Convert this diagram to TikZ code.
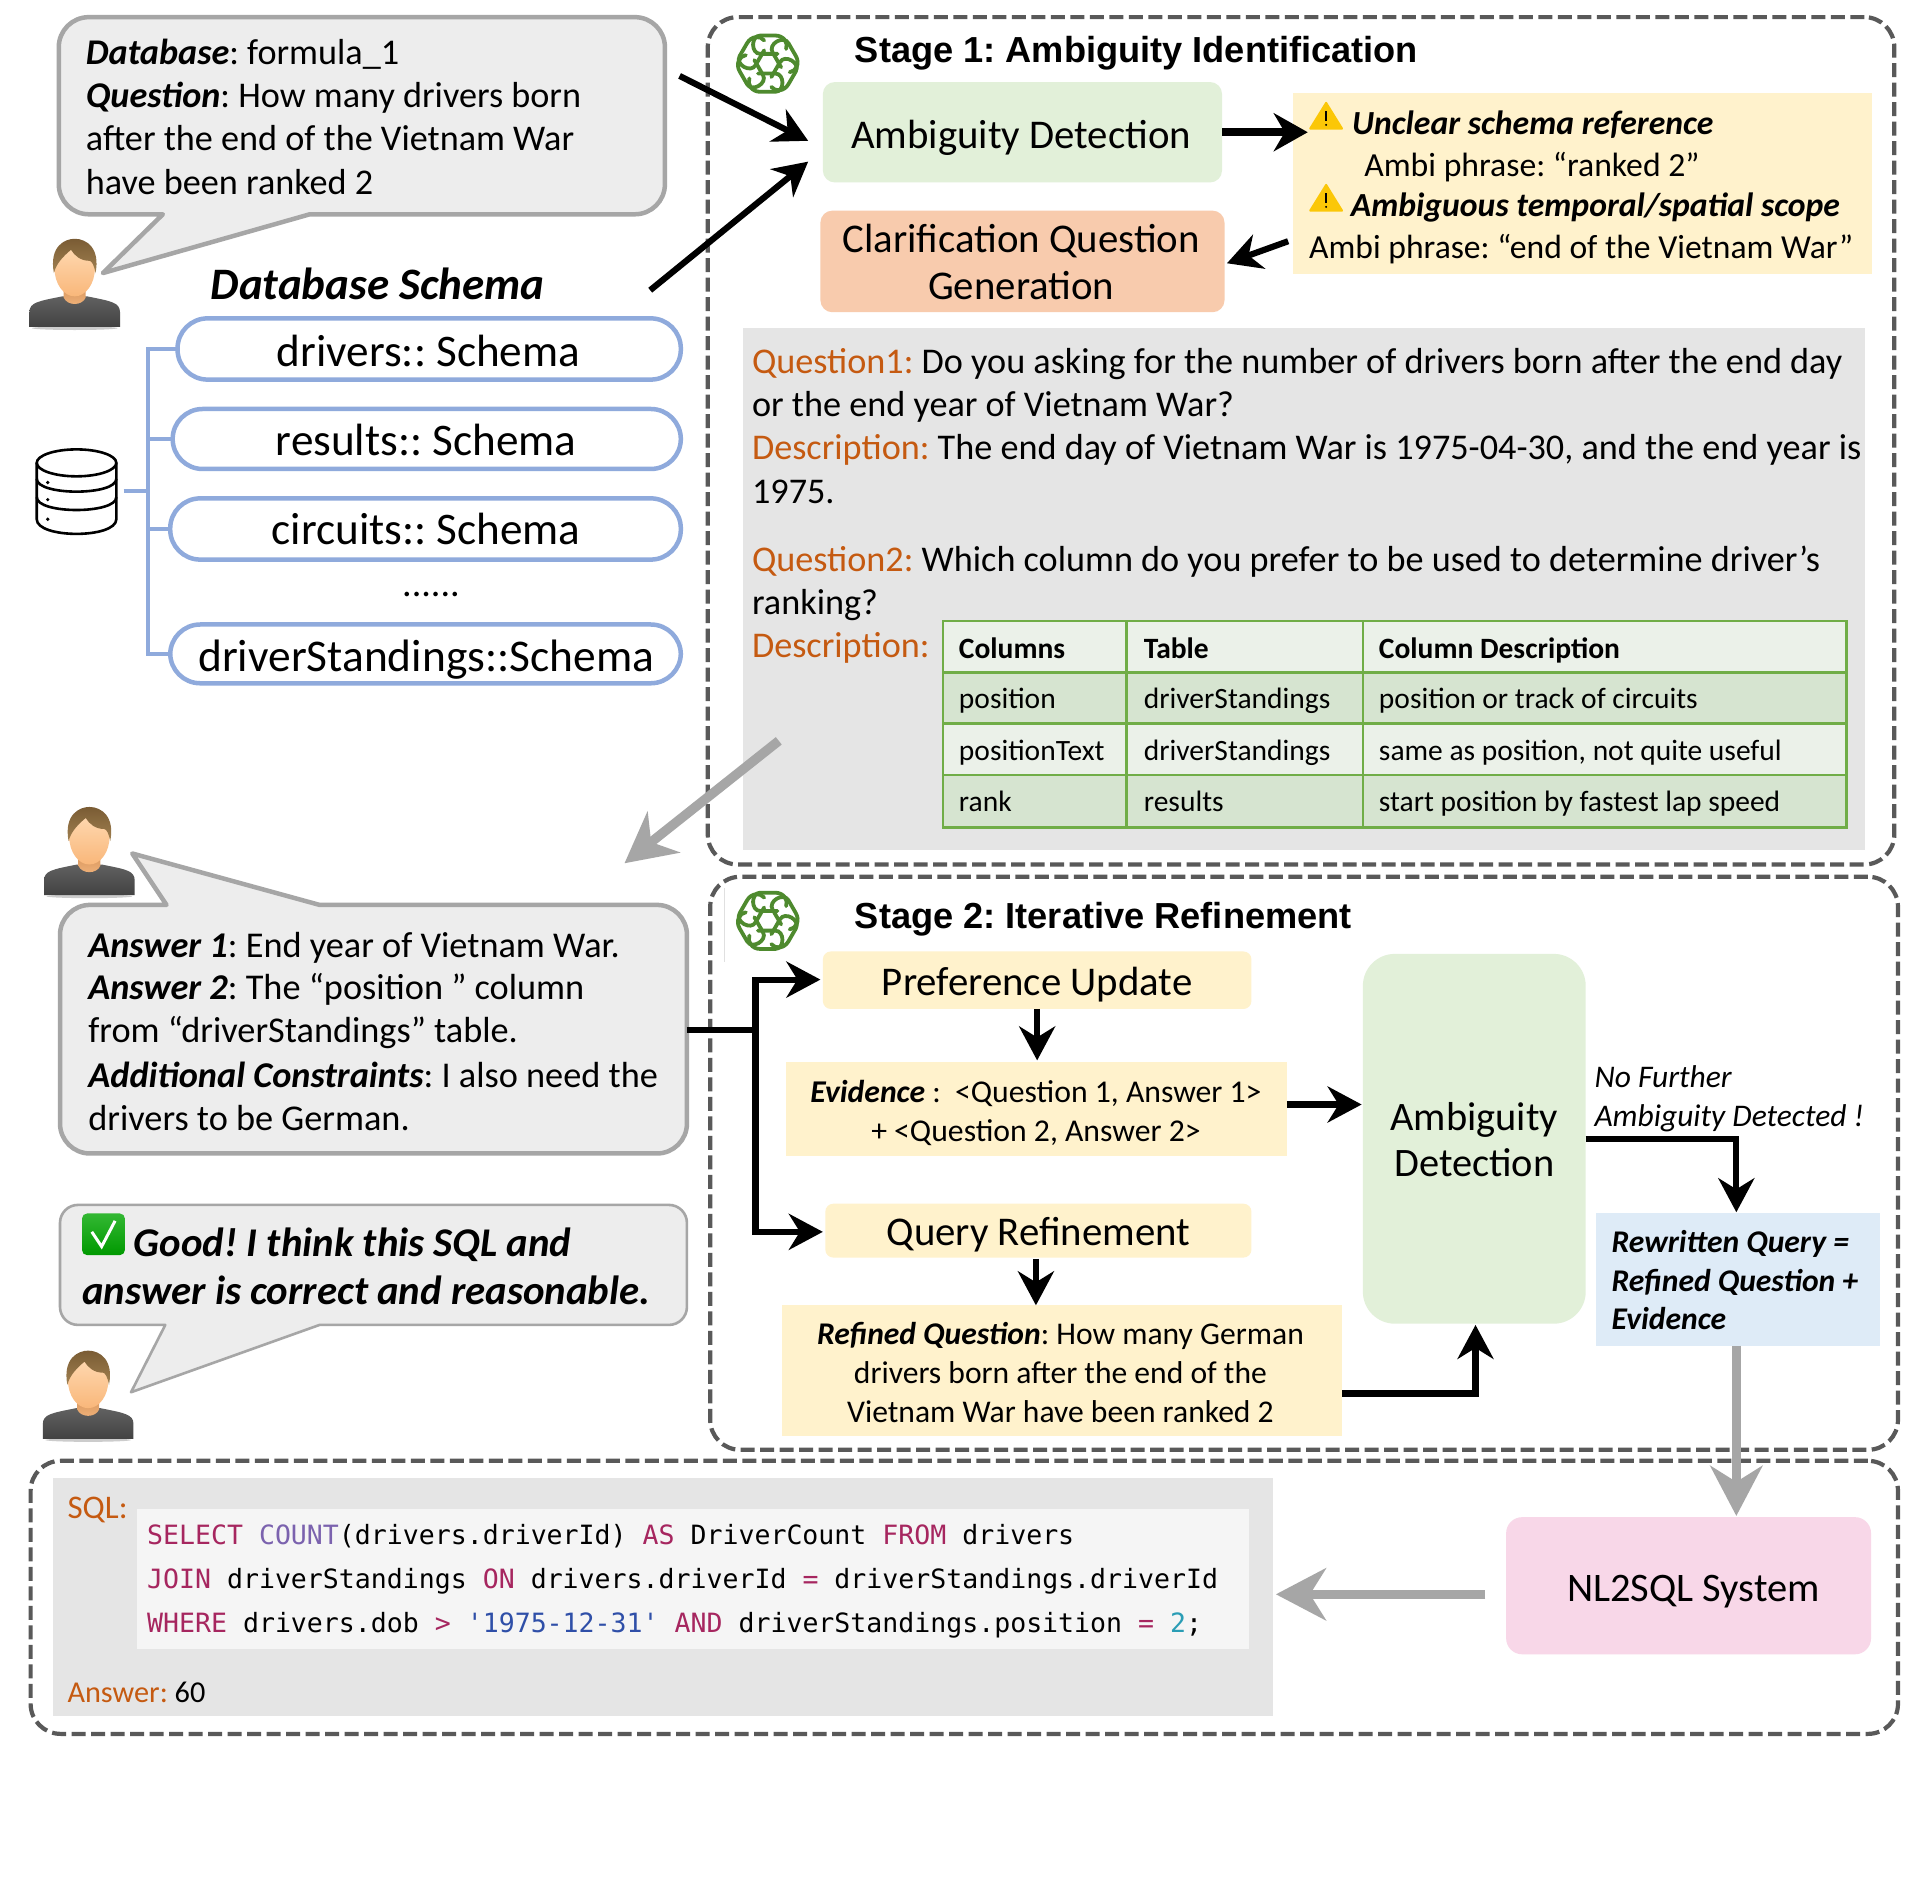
\documentclass[tikz,border=0pt]{standalone}
\usepackage{fontspec}
\setmainfont{Carlito}
\newfontfamily\arialf{Liberation Sans}
\newfontfamily\codef{DejaVu Sans Mono}
\usetikzlibrary{arrows.meta,fit,calc}
\newcommand\fsz[1]{\fontsize{#1}{#1}\selectfont\frenchspacing}
\definecolor{dashc}{HTML}{595959}
\definecolor{bubf}{HTML}{EDEDED}
\definecolor{bubd}{HTML}{A6A6A6}
\definecolor{greenb}{HTML}{E2F0D9}
\definecolor{orangeb}{HTML}{F8CBAD}
\definecolor{yellowb}{HTML}{FFF2CC}
\definecolor{greyb}{HTML}{E5E5E5}
\definecolor{blueb}{HTML}{DEEBF7}
\definecolor{pinkb}{HTML}{F8D7E8}
\definecolor{pillc}{HTML}{8FAADC}
\definecolor{orangt}{HTML}{C55A11}
\definecolor{tabg}{HTML}{70AD47}
\definecolor{rowa}{HTML}{EBF1E9}
\definecolor{rowb}{HTML}{D6E4D0}
\definecolor{logog}{HTML}{4E8A2E}
\definecolor{kw}{HTML}{A6265F}
\definecolor{fn}{HTML}{7B62AE}
\definecolor{strc}{HTML}{2F4FA8}
\definecolor{numc}{HTML}{2A9DB5}
\definecolor{hairt}{HTML}{7A5C34}
\definecolor{hairb}{HTML}{A08050}
\definecolor{skint}{HTML}{FFDDB8}
\definecolor{skinb}{HTML}{F9B77A}
\definecolor{neckt}{HTML}{D9985F}
\definecolor{neckb}{HTML}{F0B27A}
\tikzset{
 x=1.22449pt,y=-1.22449pt,
 stagebox/.style={draw=dashc,line width=4.2pt,dash pattern=on 14pt off 5.5pt,rounded corners=30pt},
 bubble/.style={draw=bubd,fill=bubf,line width=4.5pt,line join=round},
 area/.style={inner sep=0pt,outer sep=0pt},
 rbox/.style={area,rounded corners=12pt},
 pill/.style={area,draw=pillc,fill=white,line width=4.5pt,rounded corners=30pt},
 buswire/.style={draw=pillc,line width=4pt},
 tl/.style={inner sep=0pt,anchor=base west,yshift=-1.2pt},
 tc/.style={inner sep=0pt,anchor=base,yshift=-1.2pt},
 blk/.style={draw=black,line width=6.2pt,-{Stealth[length=34pt,width=36pt,inset=11pt]}},
 blkb/.style={draw=black,line width=7.5pt,-{Stealth[length=34pt,width=38pt,inset=11pt]}},
 gry/.style={draw=bubd,line width=9.5pt,-{Stealth[length=50pt,width=52pt,inset=16pt]}},
 person/.pic={
  \fill[black!20] (0,37) ellipse [x radius=35,y radius=1.5];
  \path[top color=black!62,bottom color=black!74,draw=none] (-37,36) -- (-37,24) .. controls (-37,16) and (-30,15) .. (-10,11) -- (10,11) .. controls (30,15) and (37,16) .. (37,24) -- (37,36) -- cycle;
  \path[top color=neckt,bottom color=neckb] (-9,4) -- (-9,12) .. controls (-6,19) and (6,19) .. (9,12) -- (9,4) -- cycle;
  \path[top color=skint,bottom color=skinb] (0,-12) ellipse [x radius=16.5,y radius=23];
  \path[top color=hairt,bottom color=hairb] (-17,-8) .. controls (-21,-30) and (-8,-36) .. (0,-36) .. controls (10,-36) and (21,-28) .. (17,-8) .. controls (16,-14) and (14,-18) .. (12,-18) .. controls (5,-18) and (0,-22) .. (-3,-27) .. controls (-9,-22) and (-15,-16) .. (-17,-8) -- cycle;
 },
 gptlogo/.pic={
  \foreach \k in {0,60,...,300}{
   \draw[logog,line width=3.8pt,rotate=\k,line cap=round] (8,-8) -- (-6,-8) .. controls (-14,-8) and (-14,-23) .. (-6,-23) -- (6,-23) .. controls (13,-23) and (17,-17) .. (15,-12);
  }
 },
 warnsign/.pic={
  \fill[yellow!60!orange,draw=yellow!60!orange,line width=2pt,line join=round] (0,-11) -- (13,10) -- (-13,10) -- cycle;
  \draw[black,line width=1.4pt] (0,-4) -- (0,4);
  \fill[black] (0,7) circle [radius=0.9];
 },
}
\begin{document}
\begin{tikzpicture}
\useasboundingbox (0,0) rectangle (1568,1551.67);
\fill[white] (0,0) rectangle (1568,1551.67);
% stage frames
\node (stageA) [stagebox,area,fit={(578,14)(1547,706)}] {};
\node (stageB) [stagebox,area,fit={(580,716)(1550,1184)}] {};
\node (stageC) [stagebox,area,fit={(25,1193)(1550,1416)}] {};
% first bubble
\draw[bubble,rounded corners=30pt] (253,175) -- (543,175) -- (543,14) -- (48,14) -- (48,175) [sharp corners] -- (133,175) -- (84,223) -- cycle;
\coordinate (bubAsk) at (555,62);
\node (b1a) [tl,font=\fsz{36.2}] at (70,52) {\textbf{\textit{Database}}: formula\_1};
\node (b1b) [tl,font=\fsz{36.2}] at (70,87) {\textbf{\textit{Question}}: How many drivers born};
\node (b1c) [tl,font=\fsz{36.2}] at (70,122) {after the end of the Vietnam War};
\node (b1d) [tl,font=\fsz{36.2}] at (70,158) {have been ranked 2};
\pic at (61,231) {person};
% schema
\node (dsTitle) [tl,font=\fsz{45}] at (172,244) {\textbf{\textit{Database Schema}}};
\node (p1) [pill,fit={(145,260)(556,310)}] {};
\node (p2) [pill,fit={(141,334)(556,383)}] {};
\node (p3) [pill,fit={(139,407)(556,457)}] {};
\node (p4) [pill,fit={(139,510)(556,558)}] {};
\node (p1t) [tc,font=\fsz{45.2}] at (350,298) {drivers:: Schema};
\node (p2t) [tc,font=\fsz{45.2}] at (348,371) {results:: Schema};
\node (p3t) [tc,font=\fsz{45.2}] at (348,444) {circuits:: Schema};
\node (dots) [tc,font=\fsz{38}] at (352,486) {......};
\node (p4t) [tc,font=\fsz{45.4}] at (348,547) {driverStandings::Schema};
\node (dbicon) [area,fit={(30,367)(95,436)}] {};
\draw[black,line width=2.6pt,fill=white] (30,378) -- (30,424) .. controls (30,440) and (95,440) .. (95,424) -- (95,378);
\draw[black,line width=2.6pt] (62.5,378) ellipse [x radius=32.5,y radius=11];
\draw[black,line width=2.6pt] (30,391) .. controls (30,405) and (95,405) .. (95,391);
\draw[black,line width=2.6pt] (30,406) .. controls (30,420) and (95,420) .. (95,406);
\foreach \yy in {394,408,424}{\fill[black] (39,\yy) circle [radius=1.5];}
\coordinate (dbout) at (101,401);
\coordinate (busm) at (121,401);
\draw[buswire] (dbout) -- (busm);
\draw[buswire] (busm) |- (p1.west);
\draw[buswire] (busm) |- (p2.west);
\draw[buswire] (busm) |- (p3.west);
\draw[buswire] (busm) |- (p4.west);
% stage 1
\pic at (627,52) {gptlogo};
\node (st1) [tl,font=\arialf\bfseries\fsz{36.2}] at (698,50) {Stage 1: Ambiguity Identification};
\node (ad1) [rbox,fill=greenb,fit={(672,67)(998,149)}] {};
\node (ad1t) [tc,font=\fsz{40.8}] at (834,120) {Ambiguity Detection};
\node (cq) [rbox,fill=orangeb,fit={(670,172)(1000,255)}] {};
\node (cqa) [tc,font=\fsz{40.8}] at (834,205) {Clarification Question};
\node (cqb) [tc,font=\fsz{40.8}] at (834,244) {Generation};
\node (amb) [area,fill=yellowb,fit={(1056,76)(1529,224)}] {};
\pic at (1083,95) {warnsign};
\pic at (1083,162) {warnsign};
\node (amba) [tl,font=\fsz{33.7}] at (1104,109) {\textbf{\textit{Unclear schema reference}}};
\node (ambb) [tl,font=\fsz{33.7}] at (1114,143) {Ambi phrase: “ranked 2”};
\node (ambc) [tl,font=\fsz{33.7}] at (1103,176) {\textbf{\textit{Ambiguous temporal/spatial scope}}};
\node (ambd) [tl,font=\fsz{33.6}] at (1069,210) {Ambi phrase: “end of the Vietnam War”};
\coordinate (ad1in) at (660,115);
\coordinate (ad1inb) at (660,132);
\coordinate (dsout) at (531,237);
\coordinate (ambin) at (1068,108);
\coordinate (ambout) at (1052,197);
\coordinate (cqin) at (1002,215);
\draw[blk] (bubAsk) -- (ad1in);
\draw[blk] (dsout) -- (ad1inb);
\draw[blkb] (ad1.east) -- (ambin);
\draw[blk] (ambout) -- (cqin);
% question panel
\node (qp) [area,fill=greyb,fit={(607,268)(1523,694)}] {};
\node (q1) [tl,font=\fsz{36.2}] at (614,304) {\textcolor{orangt}{Question1:} Do you asking for the number of drivers born after the end day};
\node (q2) [tl,font=\fsz{36.2}] at (614,339) {or the end year of Vietnam War?};
\node (q3) [tl,font=\fsz{36.2}] at (614,374) {\textcolor{orangt}{Description:} The end day of Vietnam War is 1975-04-30, and the end year is};
\node (q4) [tl,font=\fsz{36.2}] at (614,410) {1975.};
\node (q5) [tl,font=\fsz{36.2}] at (614,466) {\textcolor{orangt}{Question2:} Which column do you prefer to be used to determine driver’s};
\node (q6) [tl,font=\fsz{36.2}] at (614,501) {ranking?};
\node (q7) [tl,font=\fsz{36.2}] at (614,536) {\textcolor{orangt}{Description:}};
% table
\foreach \ya/\yb/\cc/\rr in {507/549/rowa/1,549/591/rowb/2,591/633/rowa/3,633/676/rowb/4}{
 \foreach \xa/\xb/\kk in {770/920/1,920/1113/2,1113/1508/3}{
  \node (c\rr\kk) [area,fill=\cc,draw=tabg,line width=2.6pt,fit={(\xa,\ya)(\xb,\yb)}] {};
 }
}
\node (h1) [tl,font=\fsz{29.5}] at (783,537) {\textbf{Columns}};
\node (h2) [tl,font=\fsz{29.5}] at (934,537) {\textbf{Table}};
\node (h3) [tl,font=\fsz{29.5}] at (1126,537) {\textbf{Column Description}};
\node (r1a) [tl,font=\fsz{29.5}] at (783,578) {position};
\node (r1b) [tl,font=\fsz{29.5}] at (934,578) {driverStandings};
\node (r1c) [tl,font=\fsz{29.5}] at (1126,578) {position or track of circuits};
\node (r2a) [tl,font=\fsz{29.5}] at (783,620) {positionText};
\node (r2b) [tl,font=\fsz{29.5}] at (934,620) {driverStandings};
\node (r2c) [tl,font=\fsz{29.5}] at (1126,620) {same as position, not quite useful};
\node (r3a) [tl,font=\fsz{29.5}] at (783,662) {rank};
\node (r3b) [tl,font=\fsz{29.5}] at (934,662) {results};
\node (r3c) [tl,font=\fsz{29.5}] at (1126,662) {start position by fastest lap speed};
% second bubble
\draw[bubble,rounded corners=30pt] (136,739) [sharp corners] -- (108,697) -- (261,739) [rounded corners=30pt] -- (561,739) -- (561,942) -- (49,942) -- (49,739) [sharp corners] -- cycle;
\pic at (73,695) {person};
\node (b2a) [tl,font=\fsz{36.3}] at (72,781) {\textbf{\textit{Answer 1}}: End year of Vietnam War.};
\node (b2b) [tl,font=\fsz{36.3}] at (72,815) {\textbf{\textit{Answer 2}}: The “position ” column};
\node (b2c) [tl,font=\fsz{36.3}] at (72,850) {from “driverStandings” table.};
\node (b2d) [tl,font=\fsz{36.3}] at (72,887) {\textbf{\textit{Additional Constraints}}: I also need the};
\node (b2e) [tl,font=\fsz{36.3}] at (72,922) {drivers to be German.};
\coordinate (b2out) at (561,841);
\coordinate (fork) at (617,841);
\coordinate (qpout) at (636,605);
\coordinate (b2in) at (510,705);
\draw[gry] (qpout) -- (b2in);
% third bubble
\draw[bubble,line width=2.6pt,rounded corners=18pt] (261,1082) -- (561,1082) -- (561,984) -- (49,984) -- (49,1082) [sharp corners] -- (135,1082) -- (107,1137) -- cycle;
\pic at (72,1139) {person};
\path[rounded corners=5pt,top color=green!65!black!80,bottom color=green!60!black,draw=none] (67,991) rectangle (102,1025);
\draw[white,line width=3pt] (75,1006) -- (83,1018) -- (94,997);
\node (b3a) [tl,font=\fsz{40.8}] at (109,1025) {\textbf{\textit{Good! I think this SQL and}}};
\node (b3b) [tl,font=\fsz{40.8}] at (67,1064) {\textbf{\textit{answer is correct and reasonable.}}};
% stage 2
\pic at (627,752) {gptlogo};
\draw[black!12,line width=1pt] (592,725) -- (592,786);
\node (st2) [tl,font=\arialf\bfseries\fsz{36.2}] at (698,757) {Stage 2: Iterative Refinement};
\node (pu) [rbox,rounded corners=8pt,fill=yellowb,fit={(672,777)(1022,824)}] {};
\node (put) [tc,font=\fsz{40.8}] at (847,812) {Preference Update};
\node (ev) [area,fill=yellowb,fit={(642,867)(1051,944)}] {};
\node (eva) [tc,font=\fsz{31.7}] at (846,899) {\textbf{\textit{Evidence}} :\ \ <Question 1, Answer 1>};
\node (evb) [tc,font=\fsz{31.7}] at (846,931) {+ <Question 2, Answer 2>};
\node (qr) [rbox,rounded corners=8pt,fill=yellowb,fit={(674,983)(1022,1027)}] {};
\node (qrt) [tc,font=\fsz{40.8}] at (848,1016) {Query Refinement};
\node (rq) [area,fill=yellowb,fit={(639,1066)(1096,1173)}] {};
\node (rqa) [tc,font=\fsz{31.6}] at (866,1097) {\textbf{\textit{Refined Question}}: How many German};
\node (rqb) [tc,font=\fsz{31.6}] at (866,1129) {drivers born after the end of the};
\node (rqc) [tc,font=\fsz{31.6}] at (866,1161) {Vietnam War have been ranked 2};
\node (ad2) [area,rounded corners=32pt,fill=greenb,fit={(1113,779)(1295,1081)}] {};
\node (ad2a) [tc,font=\fsz{40.4}] at (1204,922) {Ambiguity};
\node (ad2b) [tc,font=\fsz{40.4}] at (1204,960) {Detection};
\node (nf1) [tl,font=\fsz{31.5}\itshape] at (1302,887) {No Further};
\node (nf2) [tl,font=\fsz{31.5}\itshape] at (1302,919) {Ambiguity Detected !};
\node (rw) [area,fill=blueb,fit={(1303,991)(1535,1099)}] {};
\node (rwa) [tl,font=\fsz{31.6}] at (1316,1022) {\textbf{\textit{Rewritten Query =}}};
\node (rwb) [tl,font=\fsz{31.6}] at (1316,1054) {\textbf{\textit{Refined Question +}}};
\node (rwc) [tl,font=\fsz{31.6}] at (1316,1085) {\textbf{\textit{Evidence}}};
\coordinate (puin) at (670,800);
\coordinate (qrin) at (672,1006);
\coordinate (rqout) at (1096,1138);
\coordinate (adin) at (1205,1082);
\coordinate (adout) at (1295,930);
\coordinate (rwin) at (1418,990);
\coordinate (evout) at (1051,902);
\coordinate (evadin) at (1112,902);
\coordinate (pus) at (847,824);
\coordinate (evin) at (847,866);
\coordinate (qrs) at (846,1028);
\coordinate (rqin) at (846,1066);
\draw[blk] (b2out) -- (fork) |- (puin);
\draw[blk] (fork) |- (qrin);
\draw[blk] (pus) -- (evin);
\draw[blk] (qrs) -- (rqin);
\draw[blk] (evout) -- (evadin);
\draw[blk] (rqout) -| (adin);
\draw[blk] (adout) -| (rwin);
% bottom
\node (sqlp) [area,fill=greyb,fit={(43,1207)(1040,1401)}] {};
\node (codeb) [area,fill=black!4,fit={(112,1232)(1020,1347)}] {};
\node (sqll) [tl,font=\fsz{33},text=orangt] at (55,1239) {SQL:};
\node (c1) [tl,font=\codef\fsz{26.55}] at (120,1260) {\textcolor{kw}{SELECT} \textcolor{fn}{COUNT}(drivers.driverId) \textcolor{kw}{AS} DriverCount \textcolor{kw}{FROM} drivers};
\node (c2) [tl,font=\codef\fsz{26.55}] at (120,1296) {\textcolor{kw}{JOIN} driverStandings \textcolor{kw}{ON} drivers.driverId \textcolor{kw}{=} driverStandings.driverId};
\node (c3) [tl,font=\codef\fsz{26.55}] at (120,1332) {\textcolor{kw}{WHERE} drivers.dob \textcolor{kw}{>} \textcolor{strc}{'1975-12-31'} \textcolor{kw}{AND} driverStandings.position \textcolor{kw}{=} \textcolor{numc}{2};};
\node (ansl) [tl,font=\fsz{30.3}] at (55,1389) {\textcolor{orangt}{Answer:} 60};
\node (nl) [rbox,rounded corners=16pt,fill=pinkb,fit={(1230,1239)(1528,1351)}] {};
\node (nlt) [tc,font=\fsz{40.5}] at (1383,1307) {NL2SQL System};
\coordinate (nlin) at (1418,1238);
\coordinate (rwout) at (1418,1099);
\coordinate (nlout) at (1213,1302);
\coordinate (sqlin) at (1042,1302);
\draw[gry] (rwout) -- (nlin);
\draw[gry] (nlout) -- (sqlin);
\end{tikzpicture}
\end{document}
